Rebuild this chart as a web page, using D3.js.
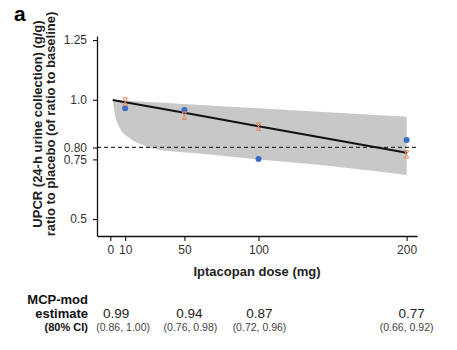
<!DOCTYPE html>
<html>
<head>
<meta charset="utf-8">
<script src="https://cdn.jsdelivr.net/npm/d3@7"></script>
<style>
  body { margin: 0; background: #fff; }
  svg text { font-family: Arial, "Liberation Sans", sans-serif; }
</style>
</head>
<body>
<div id="chart"></div>
<script>
// dose levels of the study
var doses = [10, 50, 100, 200];
var xTicks = [0, 10, 50, 100, 200];
var yTicks = [0.5, 0.75, 0.80, 1.0, 1.25];
var yTickLabels = ["0.5", "0.75", "0.80", "1.0", "1.25"];

// observed (blue) and model (orange x) values
var observed = [0.964, 0.957, 0.752, 0.831];
var modelPts = [0.992, 0.933, 0.887, 0.771];

// fitted line
var fitDose = [1.6, 50, 100, 200];
var fitVal = [0.999, 0.945, 0.889, 0.778];

// 80% CI band
var bandDose = [1.6, 3.2, 6.5, 13.3, 22, 33.5, 49, 67, 100, 135, 200];
var bandLow = [0.999, 0.936, 0.880, 0.838, 0.810, 0.789, 0.780, 0.771, 0.750, 0.731, 0.685];
var bandHigh = [0.999, 0.998, 0.997, 0.995, 0.992, 0.988, 0.982, 0.976, 0.964, 0.952, 0.929];

var threshold = 0.80;

// table under the plot
var estimates = ["0.99", "0.94", "0.87", "0.77"];
var ciText = ["(0.86, 1.00)", "(0.76, 0.98)", "(0.72, 0.96)", "(0.66, 0.92)"];

var width = 457, height = 350;
var pLeft = 97, pRight = 417, pTop = 36, pBottom = 236;

var svg = d3.select("#chart").append("svg")
    .attr("width", width).attr("height", height);

var x = d3.scaleLinear().domain([-9, 207]).range([pLeft, pRight]);
var y = d3.scaleLinear().domain([0.429, 1.267]).range([pBottom, pTop]);

// band
var band = bandDose.map(function(d, i){ return {d: d, lo: bandLow[i], hi: bandHigh[i]}; });
svg.append("path")
    .datum(band)
    .attr("fill", "#c8c8c8")
    .attr("d", d3.area()
        .curve(d3.curveMonotoneX)
        .x(function(d){ return x(d.d); })
        .y0(function(d){ return y(d.lo); })
        .y1(function(d){ return y(d.hi); }));

// dashed reference
svg.append("line")
    .attr("x1", pLeft).attr("x2", pRight)
    .attr("y1", y(threshold)).attr("y2", y(threshold))
    .attr("stroke", "#333").attr("stroke-width", 1.3)
    .attr("stroke-dasharray", "4,3");

// fitted line
svg.append("path")
    .datum(fitDose.map(function(d, i){ return [d, fitVal[i]]; }))
    .attr("fill", "none")
    .attr("stroke", "#111").attr("stroke-width", 2)
    .attr("d", d3.line()
        .x(function(d){ return x(d[0]); })
        .y(function(d){ return y(d[1]); }));

// blue dots
svg.selectAll("circle.obs")
    .data(doses)
    .enter().append("circle")
    .attr("class", "obs")
    .attr("cx", function(d){ return x(d); })
    .attr("cy", function(d, i){ return y(observed[i]); })
    .attr("r", 3)
    .attr("fill", "#3a6cc8");

// orange x marks
svg.selectAll("path.mod")
    .data(doses)
    .enter().append("path")
    .attr("class", "mod")
    .attr("transform", function(d, i){ return "translate(" + x(d) + "," + y(modelPts[i]) + ")"; })
    .attr("d", "M-2.2,-3.8L2.2,3.8M2.2,-3.8L-2.2,3.8M-2,-3.8H2M-2,3.8H2")
    .attr("fill", "none")
    .attr("stroke", "#e5845a")
    .attr("stroke-width", 1);

// axes
var yAxis = svg.append("g")
    .attr("transform", "translate(" + pLeft + ",0)")
    .call(d3.axisLeft(y).tickValues(yTicks).tickSize(4).tickSizeOuter(0).tickPadding(6)
        .tickFormat(function(d, i){ return yTickLabels[i]; }));
var xAxis = svg.append("g")
    .attr("transform", "translate(0," + pBottom + ")")
    .call(d3.axisBottom(x).tickValues(xTicks).tickSize(5).tickSizeOuter(0).tickPadding(4));

[yAxis, xAxis].forEach(function(g){
    g.select(".domain").attr("stroke", "#111").attr("stroke-width", 1.3);
    g.selectAll(".tick line").attr("stroke", "#111").attr("stroke-width", 1.1);
    g.selectAll(".tick text")
        .attr("font-size", "12px")
        .attr("font-family", "Arial, 'Liberation Sans', sans-serif")
        .attr("fill", "#333");
});

// panel letter
svg.append("text")
    .attr("x", 14).attr("y", 21)
    .attr("font-size", "21px").attr("font-weight", "bold")
    .text("a");

// axis titles
svg.append("text")
    .attr("x", 257).attr("y", 276)
    .attr("text-anchor", "middle")
    .attr("font-size", "13px").attr("font-weight", "bold")
    .attr("fill", "#222")
    .text("Iptacopan dose (mg)");

var yLab = ["UPCR (24-h urine collection) (g/g)", "ratio to placebo (of ratio to baseline)"];
svg.selectAll("text.ylab")
    .data(yLab)
    .enter().append("text")
    .attr("class", "ylab")
    .attr("transform", function(d, i){ return "translate(" + (42 + i * 13) + ",124) rotate(-90)"; })
    .attr("text-anchor", "middle")
    .attr("font-size", "13px").attr("font-weight", "bold")
    .attr("fill", "#222")
    .text(function(d){ return d; });

// table
var rowLab = [["MCP-mod", 304, "13px"], ["estimate", 318, "13px"], ["(80% CI)", 331, "11px"]];
svg.selectAll("text.rowlab")
    .data(rowLab)
    .enter().append("text")
    .attr("class", "rowlab")
    .attr("x", 88).attr("y", function(d){ return d[1]; })
    .attr("text-anchor", "end")
    .attr("font-size", function(d){ return d[2]; })
    .attr("font-weight", "bold")
    .attr("fill", "#111")
    .text(function(d){ return d[0]; });

var estShift = [-9, 5, 1, 5];
var ciShift = [-2, 6, 1, 0];
svg.selectAll("text.est")
    .data(doses)
    .enter().append("text")
    .attr("class", "est")
    .attr("x", function(d, i){ return x(d) + estShift[i]; })
    .attr("y", 318)
    .attr("text-anchor", "middle")
    .attr("font-size", "13.5px")
    .attr("fill", "#222")
    .text(function(d, i){ return estimates[i]; });

svg.selectAll("text.ci")
    .data(doses)
    .enter().append("text")
    .attr("class", "ci")
    .attr("x", function(d, i){ return x(d) + ciShift[i]; })
    .attr("y", 331)
    .attr("text-anchor", "middle")
    .attr("font-size", "10.5px")
    .attr("fill", "#444")
    .text(function(d, i){ return ciText[i]; });
</script>
</body>
</html>
